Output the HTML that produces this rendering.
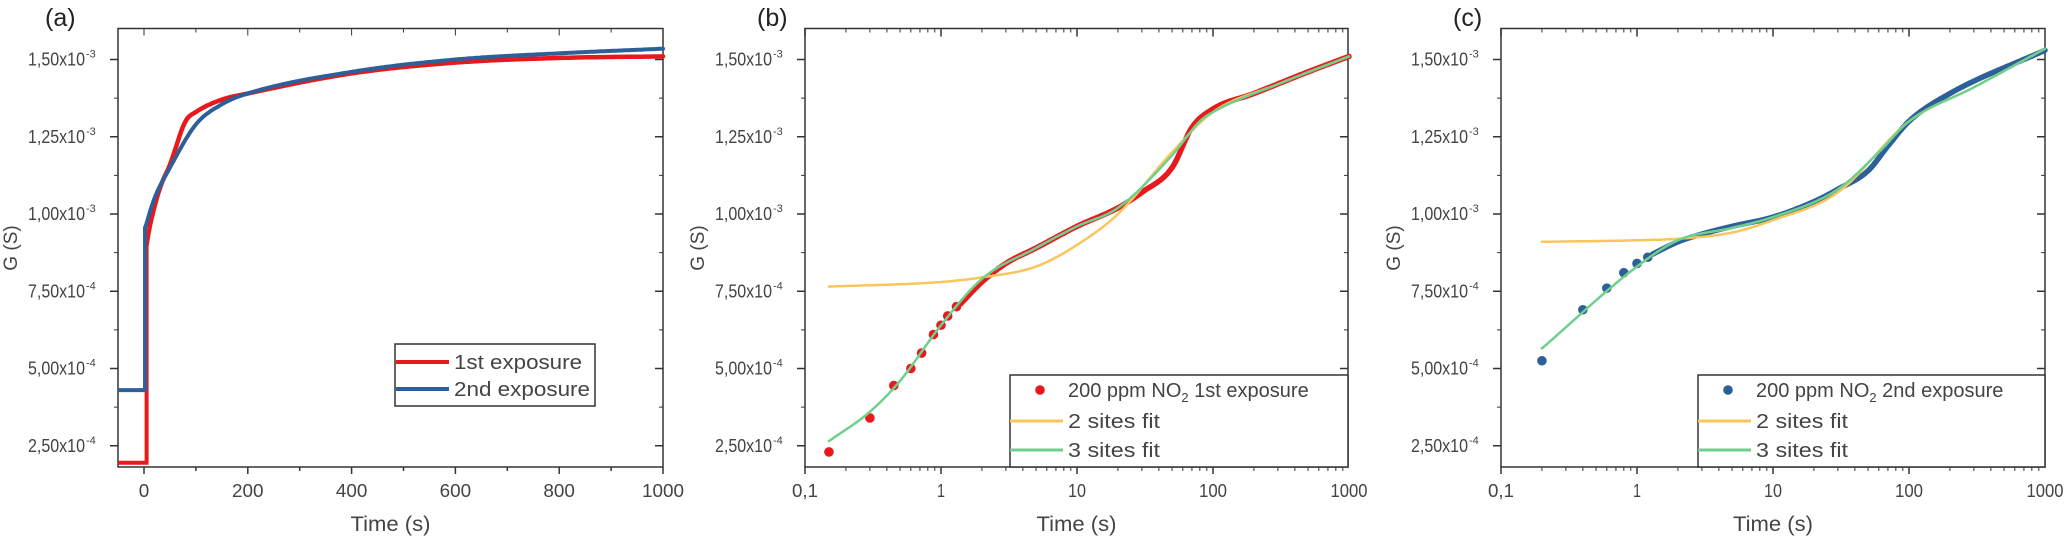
<!DOCTYPE html>
<html><head><meta charset="utf-8"><style>
html,body{margin:0;padding:0;background:#fff}
svg{display:block;font-family:"Liberation Sans",Arial,sans-serif}
</style></head><body>
<svg id="s" width="2066" height="539" viewBox="0 0 2066 539" xmlns="http://www.w3.org/2000/svg"></svg>
<script>
const S=document.getElementById('s');let out='';
const Y0=59.5,PY=30.9;const yv=v=>Y0+(15-v)*PY;
const TOP=28.5,BOT=467;
function mono(pts){const n=pts.length,xs=pts.map(p=>p[0]),ys=pts.map(p=>p[1]);const d=[],m=new Array(n);
for(let i=0;i<n-1;i++)d.push((ys[i+1]-ys[i])/(xs[i+1]-xs[i]));
m[0]=d[0];m[n-1]=d[n-2];for(let i=1;i<n-1;i++){m[i]=(d[i-1]*d[i]<=0)?0:(d[i-1]+d[i])/2;}
for(let i=0;i<n-1;i++){if(d[i]==0){m[i]=m[i+1]=0;continue;}const a=m[i]/d[i],b=m[i+1]/d[i];const h=a*a+b*b;if(h>9){const t=3/Math.sqrt(h);m[i]=t*a*d[i];m[i+1]=t*b*d[i];}}
return x=>{if(x<=xs[0])return ys[0];if(x>=xs[n-1])return ys[n-1];let i=0;while(x>xs[i+1])i++;const h=xs[i+1]-xs[i],t=(x-xs[i])/h;const t2=t*t,t3=t2*t;
return (2*t3-3*t2+1)*ys[i]+(t3-2*t2+t)*h*m[i]+(-2*t3+3*t2)*ys[i+1]+(t3-t2)*h*m[i+1];};}
function path(pts,fx,x0,x1,n,col,w,log){const lp=log?pts.map(p=>[Math.log10(p[0]),p[1]]):pts;const f=mono(lp);let d='';for(let i=0;i<=n;i++){let x=log?Math.pow(10,Math.log10(x0)+(Math.log10(x1)-Math.log10(x0))*i/n):x0+(x1-x0)*i/n;const v=f(log?Math.log10(x):x);d+=(i?'L':'M')+fx(x).toFixed(1)+' '+yv(v).toFixed(1);}return `<path d="${d}" fill="none" stroke="${col}" stroke-width="${w}" stroke-linejoin="round" stroke-linecap="round"/>`;}
function yaxis(L,R){const labs=[[15,'1,50x10','-3'],[12.5,'1,25x10','-3'],[10,'1,00x10','-3'],[7.5,'7,50x10','-4'],[5,'5,00x10','-4'],[2.5,'2,50x10','-4']];
labs.forEach(l=>{const y=yv(l[0]);out+=`<line x1="${L-8}" y1="${y}" x2="${L}" y2="${y}" stroke="#333" stroke-width="1.5"/><line x1="${R-8}" y1="${y}" x2="${R}" y2="${y}" stroke="#333" stroke-width="1.5"/>`;
out+=`<text x="${L-90}" y="${y+6}" font-size="18" fill="#444" textLength="57" lengthAdjust="spacingAndGlyphs">${l[1]}</text><text x="${L-32}" y="${y-2}" font-size="11" fill="#444">${l[2]}</text>`;});
for(let v=3.75;v<16;v+=2.5){const y=yv(v);out+=`<line x1="${L-4}" y1="${y}" x2="${L}" y2="${y}" stroke="#333"/><line x1="${R-4}" y1="${y}" x2="${R}" y2="${y}" stroke="#333"/>`;}
out+=`<rect x="${L}" y="${TOP}" width="${R-L}" height="${BOT-TOP}" fill="none" stroke="#333" stroke-width="1.5"/>`;
out+=`<text transform="translate(${L-101},248) rotate(-90)" font-size="19" fill="#444" text-anchor="middle">G (S)</text>`;
out+=`<text x="${(L+R)/2-40}" y="531" font-size="21" fill="#444" textLength="80" lengthAdjust="spacingAndGlyphs">Time (s)</text>`;}
function xlab(x,s,w){out+=`<text x="${x-w/2}" y="497" font-size="18" fill="#444" textLength="${w}" lengthAdjust="spacingAndGlyphs">${s}</text>`;}
// Panel a
{const L=118,R=663,fx=t=>144+(t)*0.519;yaxis(L,R);
for(let t=0;t<=1000;t+=100){const x=fx(t),maj=t%200==0;out+=`<line x1="${x}" y1="${BOT}" x2="${x}" y2="${BOT+(maj?7:4)}" stroke="#333" stroke-width="1.5"/><line x1="${x}" y1="${TOP}" x2="${x}" y2="${TOP+(maj?7:4)}" stroke="#333"/>`;if(maj)xlab(x,String(t),String(t).length*10.5);}
const red=[[5,9.0],[10,9.5],[30,10.8],[50,11.6],[80,13.0],[100,13.3],[150,13.7],[200,13.9],[400,14.55],[600,14.9],[800,15.05],[1000,15.1]];
const blue=[[3,9.6],[20,10.5],[50,11.5],[100,12.9],[150,13.55],[200,13.9],[400,14.6],[600,15.0],[800,15.2],[1000,15.35]];
out+=`<path d="M${L} ${yv(1.95)}H${fx(5)}V${yv(9)}" fill="none" stroke="#e8191c" stroke-width="4"/>`;
out+=path(red,fx,5,1000,300,'#e8191c',4.5,false);
out+=`<path d="M${L} ${yv(4.3)}H${fx(2)}V${yv(9.6)}" fill="none" stroke="#2d5f99" stroke-width="4"/>`;
out+=path(blue,fx,3,1000,300,'#2d5f99',4,false);
out+=`<text x="45" y="26" font-size="25" fill="#222">(a)</text>`;
out+=`<rect x="395" y="344" width="200" height="62" fill="#fff" stroke="#333" stroke-width="1.5"/>`;
out+=`<line x1="396" y1="362" x2="449" y2="362" stroke="#e8191c" stroke-width="4"/><text x="454" y="369" font-size="20" fill="#444" textLength="128" lengthAdjust="spacingAndGlyphs">1st exposure</text>`;
out+=`<line x1="396" y1="389" x2="449" y2="389" stroke="#2d5f99" stroke-width="4"/><text x="454" y="396" font-size="20" fill="#444" textLength="136" lengthAdjust="spacingAndGlyphs">2nd exposure</text>`;}
function logpanel(L,R,lab,dataCol,dots,data,green,yellow,x0,legend,lbx){const fx=t=>L+(Math.log10(t)+1)*136;yaxis(L,R);
for(let e=-1;e<3;e++)for(let k=1;k<10;k++){const t=k*Math.pow(10,e);const x=fx(t);if(k==1){out+=`<line x1="${x}" y1="${BOT}" x2="${x}" y2="${BOT+7}" stroke="#333" stroke-width="1.5"/><line x1="${x}" y1="${TOP}" x2="${x}" y2="${TOP+8}" stroke="#333" stroke-width="1.5"/>`;}else{out+=`<line x1="${x}" y1="${BOT}" x2="${x}" y2="${BOT+4}" stroke="#333"/><line x1="${x}" y1="${TOP}" x2="${x}" y2="${TOP+4}" stroke="#333"/>`;}}
[['0,1',26],['1',8],['10',18],['100',28],['1000',37]].forEach((s,i)=>xlab(L+i*136,s[0],s[1]));
out+=path(data,fx,data[0][0],1000,400,dataCol,5.5,true);
dots.forEach(p=>out+=`<circle cx="${fx(p[0])}" cy="${yv(p[1])}" r="4.8" fill="${dataCol}"/>`);
out+=path(yellow,fx,x0,1000,300,'#f9c65c',2.5,true);
out+=path(green,fx,x0,1000,300,'#6fcf8f',2.5,true);
out+=`<text x="${L-48}" y="26" font-size="25" fill="#222">(${lab})</text>`;
out+=`<rect x="${lbx}" y="375" width="${R-lbx}" height="92" fill="#fff" stroke="#333" stroke-width="1.5"/>`;
out+=`<circle cx="${lbx+30}" cy="390" r="4.8" fill="${dataCol}"/><text x="${lbx+58}" y="397" font-size="20" fill="#444">200 ppm NO<tspan font-size="13" dy="5">2</tspan><tspan dy="-5"> ${legend}</tspan></text>`;
out+=`<line x1="${lbx}" y1="421" x2="${lbx+53}" y2="421" stroke="#f9c65c" stroke-width="3"/><text x="${lbx+58}" y="428" font-size="20" fill="#444" textLength="92" lengthAdjust="spacingAndGlyphs">2 sites fit</text>`;
out+=`<line x1="${lbx}" y1="450" x2="${lbx+53}" y2="450" stroke="#6fcf8f" stroke-width="3"/><text x="${lbx+58}" y="457" font-size="20" fill="#444" textLength="92" lengthAdjust="spacingAndGlyphs">3 sites fit</text>`;}
logpanel(805,1348,'b','#e8191c',
[[0.15,2.3],[0.3,3.4],[0.45,4.45],[0.6,5.0],[0.72,5.5],[0.88,6.1],[1.0,6.4],[1.12,6.7],[1.3,7.0]],
[[1.4,7.1],[2,7.8],[3,8.4],[5,8.9],[10,9.6],[20,10.2],[30,10.7],[50,11.5],[70,12.8],[100,13.4],[200,13.9],[500,14.6],[1000,15.1]],
[[0.15,2.65],[0.3,3.6],[0.5,4.6],[1,6.4],[2,7.9],[5,8.9],[10,9.6],[20,10.2],[50,11.9],[80,13.0],[100,13.3],[300,14.2],[1000,15.1]],
[[0.15,7.65],[1,7.8],[2,7.95],[5,8.3],[10,9.0],[20,10.0],[50,12.0],[100,13.3],[300,14.2],[1000,15.1]],0.15,'1st exposure',1010);
logpanel(1501,2045,'c','#2d5f99',
[[0.2,5.25],[0.4,6.9],[0.6,7.6],[0.8,8.1],[1.0,8.4],[1.2,8.6]],
[[1.3,8.7],[2,9.1],[3,9.35],[5,9.6],[10,9.9],[20,10.4],[30,10.8],[50,11.4],[70,12.2],[100,13.0],[200,13.9],[1000,15.3]],
[[0.2,5.65],[1,8.3],[2,9.15],[5,9.55],[10,9.9],[30,10.8],[60,12.0],[100,13.0],[300,14.1],[1000,15.35]],
[[0.2,9.1],[1,9.15],[2,9.2],[5,9.4],[10,9.8],[30,10.7],[100,13.0],[300,14.1],[1000,15.35]],0.2,'2nd exposure',1698);
S.innerHTML=out;
</script>
</body></html>
